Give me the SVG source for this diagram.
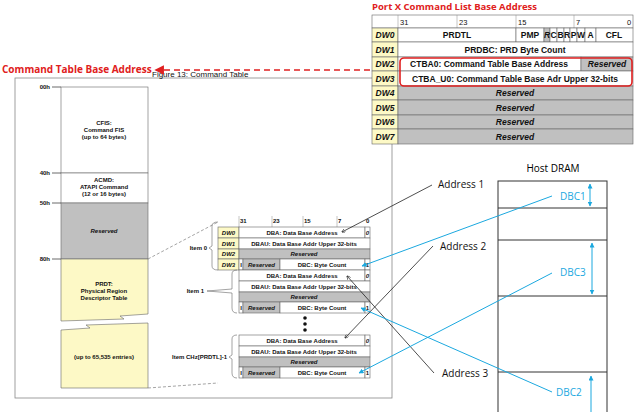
<svg xmlns="http://www.w3.org/2000/svg" width="640" height="412" viewBox="0 0 640 412">
<defs>
<style>
.t{font-family:"Liberation Sans",Arial,sans-serif;font-weight:bold;fill:#111}
.s{font-size:6px}
.m{font-size:8.5px}
.i{font-style:italic}
.c{font-family:"Liberation Sans",Arial,sans-serif;fill:#111}
.g{fill:#c0c0c0;stroke:#666;stroke-width:0.6}
.w{fill:#fff;stroke:#666;stroke-width:0.6}
.y{fill:#fdf9c6;stroke:#666;stroke-width:0.6}
.blue{stroke:#1ba8df;stroke-width:1;fill:none}
.blk{stroke:#222;stroke-width:0.8;fill:none}
.cal{font-family:"Open Sans","Liberation Sans",sans-serif;font-size:10px}
</style>
<marker id="ab" viewBox="0 0 10 10" refX="9" refY="5" markerWidth="5" markerHeight="5" orient="auto-start-reverse"><path d="M0,0L10,5L0,10z" fill="#1ba8df"/></marker>
<marker id="ak" viewBox="0 0 10 10" refX="9" refY="5" markerWidth="5" markerHeight="5" orient="auto"><path d="M0,0L10,5L0,10" fill="none" stroke="#222" stroke-width="1.5"/></marker>
<marker id="ar" viewBox="0 0 10 10" refX="2" refY="5" markerWidth="6" markerHeight="6" orient="auto-start-reverse"><path d="M0,0L10,5L0,10z" fill="#e02020"/></marker>
</defs>
<rect width="640" height="412" fill="#fff"/>

<!-- outer frame -->
<rect x="15" y="78" width="377" height="320" fill="none" stroke="#888" stroke-width="0.8"/>
<text class="c" x="152" y="77" font-size="8">Figure 13: Command Table</text>
<text x="2" y="73" font-family="Open Sans,Liberation Sans,sans-serif" font-size="10" font-weight="bold" fill="#e02020">Command Table Base Address</text>

<!-- Command table -->
<g id="cmdtable">
<rect class="w" x="61" y="87" width="87" height="86"/>
<rect class="w" x="61" y="173" width="87" height="30"/>
<rect class="g" x="61" y="203" width="87" height="56"/>
<path class="y" d="M61,259H148V314L120,316L124,319L61,321Z"/>
<path class="y" d="M61,330L90,328L86,325L148,323V388H61Z"/>
<g stroke="#444" stroke-width="0.8"><line x1="52" y1="87" x2="61" y2="87"/><line x1="52" y1="173" x2="61" y2="173"/><line x1="52" y1="203" x2="61" y2="203"/><line x1="52" y1="259" x2="61" y2="259"/></g>
<g class="t s" text-anchor="end"><text x="50" y="89">00h</text><text x="50" y="175">40h</text><text x="50" y="205">50h</text><text x="50" y="261">80h</text></g>
<g class="t s" text-anchor="middle">
<text x="104" y="125">CFIS:</text><text x="104" y="132">Command FIS</text><text x="104" y="139">(up to 64 bytes)</text>
<text x="104" y="182">ACMD:</text><text x="104" y="189">ATAPI Command</text><text x="104" y="196">(12 or 16 bytes)</text>
<text class="i" x="104" y="233">Reserved</text>
<text x="104" y="286">PRDT:</text><text x="104" y="293">Physical Region</text><text x="104" y="300">Descriptor Table</text>
<text x="104" y="359">(up to 65,535 entries)</text>
</g>
</g>

<!-- PRD table -->
<g id="prdt">
<g class="t s" font-weight="normal"><text x="240" y="223">31</text><text x="273" y="223">23</text><text x="304" y="223">15</text><text x="338" y="223">7</text><text x="366" y="223">0</text></g>
<g stroke="#888" stroke-width="0.5"><line x1="239" y1="216" x2="239" y2="227"/><line x1="272" y1="216" x2="272" y2="227"/><line x1="303" y1="216" x2="303" y2="227"/><line x1="337" y1="216" x2="337" y2="227"/></g>
<rect class="y" x="218" y="227" width="21" height="11"/><rect class="y" x="218" y="238" width="21" height="11"/><rect class="y" x="218" y="249" width="21" height="10"/><rect class="y" x="218" y="259" width="21" height="11"/>
<g class="t s i" text-anchor="middle"><text x="228.5" y="235">DW0</text><text x="228.5" y="246">DW1</text><text x="228.5" y="256">DW2</text><text x="228.5" y="267">DW3</text></g>
<rect class="w" x="239" y="227" width="126" height="11"/><rect class="w" x="365" y="227" width="5" height="11"/>
<rect class="w" x="239" y="238" width="131" height="11"/>
<rect class="g" x="239" y="249" width="131" height="10"/>
<rect class="w" x="239" y="259" width="4" height="11"/><rect class="g" x="243" y="259" width="37" height="11"/><rect class="w" x="280" y="259" width="85" height="11"/><rect class="w" x="365" y="259" width="5" height="11"/>

<rect class="w" x="239" y="270" width="126" height="11"/><rect class="w" x="365" y="270" width="5" height="11"/>
<rect class="w" x="239" y="281" width="131" height="11"/>
<rect class="g" x="239" y="292" width="131" height="10"/>
<rect class="w" x="239" y="302" width="4" height="11"/><rect class="g" x="243" y="302" width="37" height="11"/><rect class="w" x="280" y="302" width="85" height="11"/><rect class="w" x="365" y="302" width="5" height="11"/>

<rect class="w" x="239" y="335" width="126" height="11"/><rect class="w" x="365" y="335" width="5" height="11"/>
<rect class="w" x="239" y="346" width="131" height="11"/>
<rect class="g" x="239" y="357" width="131" height="10"/>
<rect class="w" x="239" y="367" width="4" height="11"/><rect class="g" x="243" y="367" width="37" height="11"/><rect class="w" x="280" y="367" width="85" height="11"/><rect class="w" x="365" y="367" width="5" height="11"/>

<g class="t s" text-anchor="middle">
<text x="302" y="235">DBA: Data Base Address</text><text x="304" y="246">DBAU: Data Base Addr Upper 32-bits</text><text class="i" x="304" y="256">Reserved</text><text x="322" y="267">DBC: Byte Count</text>
<text x="302" y="278">DBA: Data Base Address</text><text x="304" y="289">DBAU: Data Base Addr Upper 32-bits</text><text class="i" x="304" y="299">Reserved</text><text x="322" y="310">DBC: Byte Count</text>
<text x="302" y="343">DBA: Data Base Address</text><text x="304" y="354">DBAU: Data Base Addr Upper 32-bits</text><text class="i" x="304" y="364">Reserved</text><text x="322" y="375">DBC: Byte Count</text>
<text class="i" x="261.5" y="267">Reserved</text><text class="i" x="261.5" y="310">Reserved</text><text class="i" x="261.5" y="375">Reserved</text>
<text x="241" y="267">I</text><text x="241" y="310">I</text><text x="241" y="375">I</text>
<text class="i" x="367.5" y="235">0</text><text class="i" x="367.5" y="278">0</text><text class="i" x="367.5" y="343">0</text>
<text x="367.5" y="267">1</text><text x="367.5" y="310">1</text><text x="367.5" y="375">1</text>
</g>
<g fill="#111"><circle cx="305" cy="318" r="1.8"/><circle cx="305" cy="324" r="1.8"/><circle cx="305" cy="330" r="1.8"/></g>
<g class="t s" text-anchor="end"><text x="207" y="250">Item 0</text><text x="204" y="293">Item 1</text><text x="227" y="359">Item CHz[PRDTL]-1</text></g>
<g fill="none" stroke="#666" stroke-width="0.6">
<path d="M218,222Q212,222 212,226V246L209,248L212,250V266Q212,270 218,270"/>
<path d="M237,270Q232,270 232,274V289L207,291L232,293V308Q232,313 237,313"/>
<path d="M237,335Q232,335 232,339V355L229,357L232,359V373Q232,378 237,378"/>
<path d="M148,259L218,222M148,388L218,383" stroke-dasharray="3,2"/>
</g>
</g>

<!-- port command list -->
<g id="cmdlist">
<text x="372" y="10" font-family="Open Sans,Liberation Sans,sans-serif" font-size="9.5" font-weight="bold" fill="#e02020">Port X Command List Base Address</text>
<rect class="w" x="372" y="15" width="261" height="13" stroke="none"/>
<g class="c" font-size="7.5"><text x="400" y="25">31</text><text x="459" y="25">23</text><text x="518" y="25">15</text><text x="576" y="25">7</text><text x="627" y="25">0</text></g>
<g stroke="#888" stroke-width="0.5"><line x1="398" y1="15" x2="398" y2="28"/><line x1="457" y1="15" x2="457" y2="28"/><line x1="516" y1="15" x2="516" y2="28"/><line x1="574" y1="15" x2="574" y2="28"/></g>
<g>
<rect class="y" x="372" y="28" width="26" height="14"/><rect class="y" x="372" y="42" width="26" height="15"/><rect class="y" x="372" y="57" width="26" height="14"/><rect class="y" x="372" y="71" width="26" height="15"/><rect class="y" x="372" y="86" width="26" height="14"/><rect class="y" x="372" y="100" width="26" height="15"/><rect class="y" x="372" y="115" width="26" height="14"/><rect class="y" x="372" y="129" width="26" height="15"/>
<rect class="w" x="398" y="28" width="118" height="14"/><rect class="w" x="516" y="28" width="28" height="14"/><rect class="g" x="544" y="28" width="6" height="14"/>
<rect class="w" x="550" y="28" width="7" height="14"/><rect class="w" x="557" y="28" width="7" height="14"/><rect class="w" x="564" y="28" width="6" height="14"/><rect class="w" x="570" y="28" width="7" height="14"/><rect class="w" x="577" y="28" width="8" height="14"/><rect class="w" x="585" y="28" width="11" height="14"/><rect class="w" x="596" y="28" width="37" height="14"/>
<rect class="w" x="398" y="42" width="235" height="15"/>
<rect class="w" x="398" y="57" width="183" height="14"/><rect class="g" x="581" y="57" width="52" height="14"/>
<rect class="w" x="398" y="71" width="235" height="15"/>
<rect class="g" x="398" y="86" width="235" height="14"/><rect class="g" x="398" y="100" width="235" height="15"/><rect class="g" x="398" y="115" width="235" height="14"/><rect class="g" x="398" y="129" width="235" height="15"/>
</g>
<g class="t m i" font-weight="normal" text-anchor="middle"><text x="385" y="38">DW0</text><text x="385" y="53">DW1</text><text x="385" y="67">DW2</text><text x="385" y="82">DW3</text><text x="385" y="96">DW4</text><text x="385" y="111">DW5</text><text x="385" y="125">DW6</text><text x="385" y="140">DW7</text></g>
<g class="t m" text-anchor="middle">
<text x="457" y="38">PRDTL</text><text x="530" y="38">PMP</text><text class="i" x="547" y="38">R</text><text x="553.5" y="38">C</text><text x="560.5" y="38">B</text><text x="567" y="38">R</text><text x="573.5" y="38">P</text><text x="581" y="38">W</text><text x="590.5" y="38">A</text><text x="614" y="38">CFL</text>
<text x="515" y="53">PRDBC: PRD Byte Count</text>
<text x="489" y="67">CTBA0: Command Table Base Address</text><text class="i" x="607" y="67">Reserved</text>
<text x="515" y="82">CTBA_U0: Command Table Base Adr Upper 32-bits</text>
<text class="i" x="515" y="96">Reserved</text><text class="i" x="515" y="111">Reserved</text><text class="i" x="515" y="125">Reserved</text><text class="i" x="515" y="140">Reserved</text>
</g>
<rect x="400" y="58" width="232" height="28" rx="4" fill="none" stroke="#e02020" stroke-width="1.6"/>
</g>

<!-- host DRAM -->
<g id="dram">
<text class="cal" x="553" y="172" text-anchor="middle" font-size="10.5">Host DRAM</text>
<rect x="498" y="181" width="109" height="240" fill="#fff" stroke="#333" stroke-width="1"/>
<g stroke="#333" stroke-width="1"><line x1="498" y1="208" x2="607" y2="208"/><line x1="498" y1="240" x2="607" y2="240"/><line x1="498" y1="296" x2="607" y2="296"/><line x1="498" y1="372" x2="607" y2="372"/></g>
</g>

<g id="connectors">
<line x1="370" y1="70" x2="162" y2="70" stroke="#e02020" stroke-width="1.6" stroke-dasharray="6,4" marker-end="url(#ar)"/>
<line class="blue" x1="590" y1="184" x2="590" y2="206" marker-start="url(#ab)" marker-end="url(#ab)"/>
<line class="blue" x1="592" y1="243" x2="592" y2="294" marker-start="url(#ab)" marker-end="url(#ab)"/>
<line class="blue" x1="591" y1="376" x2="591" y2="412" marker-start="url(#ab)"/>
<line class="blk" x1="432" y1="185" x2="342" y2="232" marker-end="url(#ak)"/>
<line class="blk" x1="433" y1="246" x2="345" y2="338" marker-end="url(#ak)"/>
<line class="blk" x1="434" y1="373" x2="347" y2="276" marker-end="url(#ak)"/>
<line class="blue" x1="552" y1="196" x2="362" y2="266" marker-end="url(#ab)"/>
<line class="blue" x1="552" y1="273" x2="359" y2="373" marker-end="url(#ab)"/>
<line class="blue" x1="552" y1="392" x2="361" y2="308" marker-end="url(#ab)"/>
</g>
<g class="cal" fill="#111"><text x="438" y="188">Address 1</text><text x="440" y="250">Address 2</text><text x="442" y="377">Address 3</text></g>
<g class="cal" fill="#1ba8df"><text x="560" y="200">DBC1</text><text x="560" y="276">DBC3</text><text x="556" y="396">DBC2</text></g>
</svg>
